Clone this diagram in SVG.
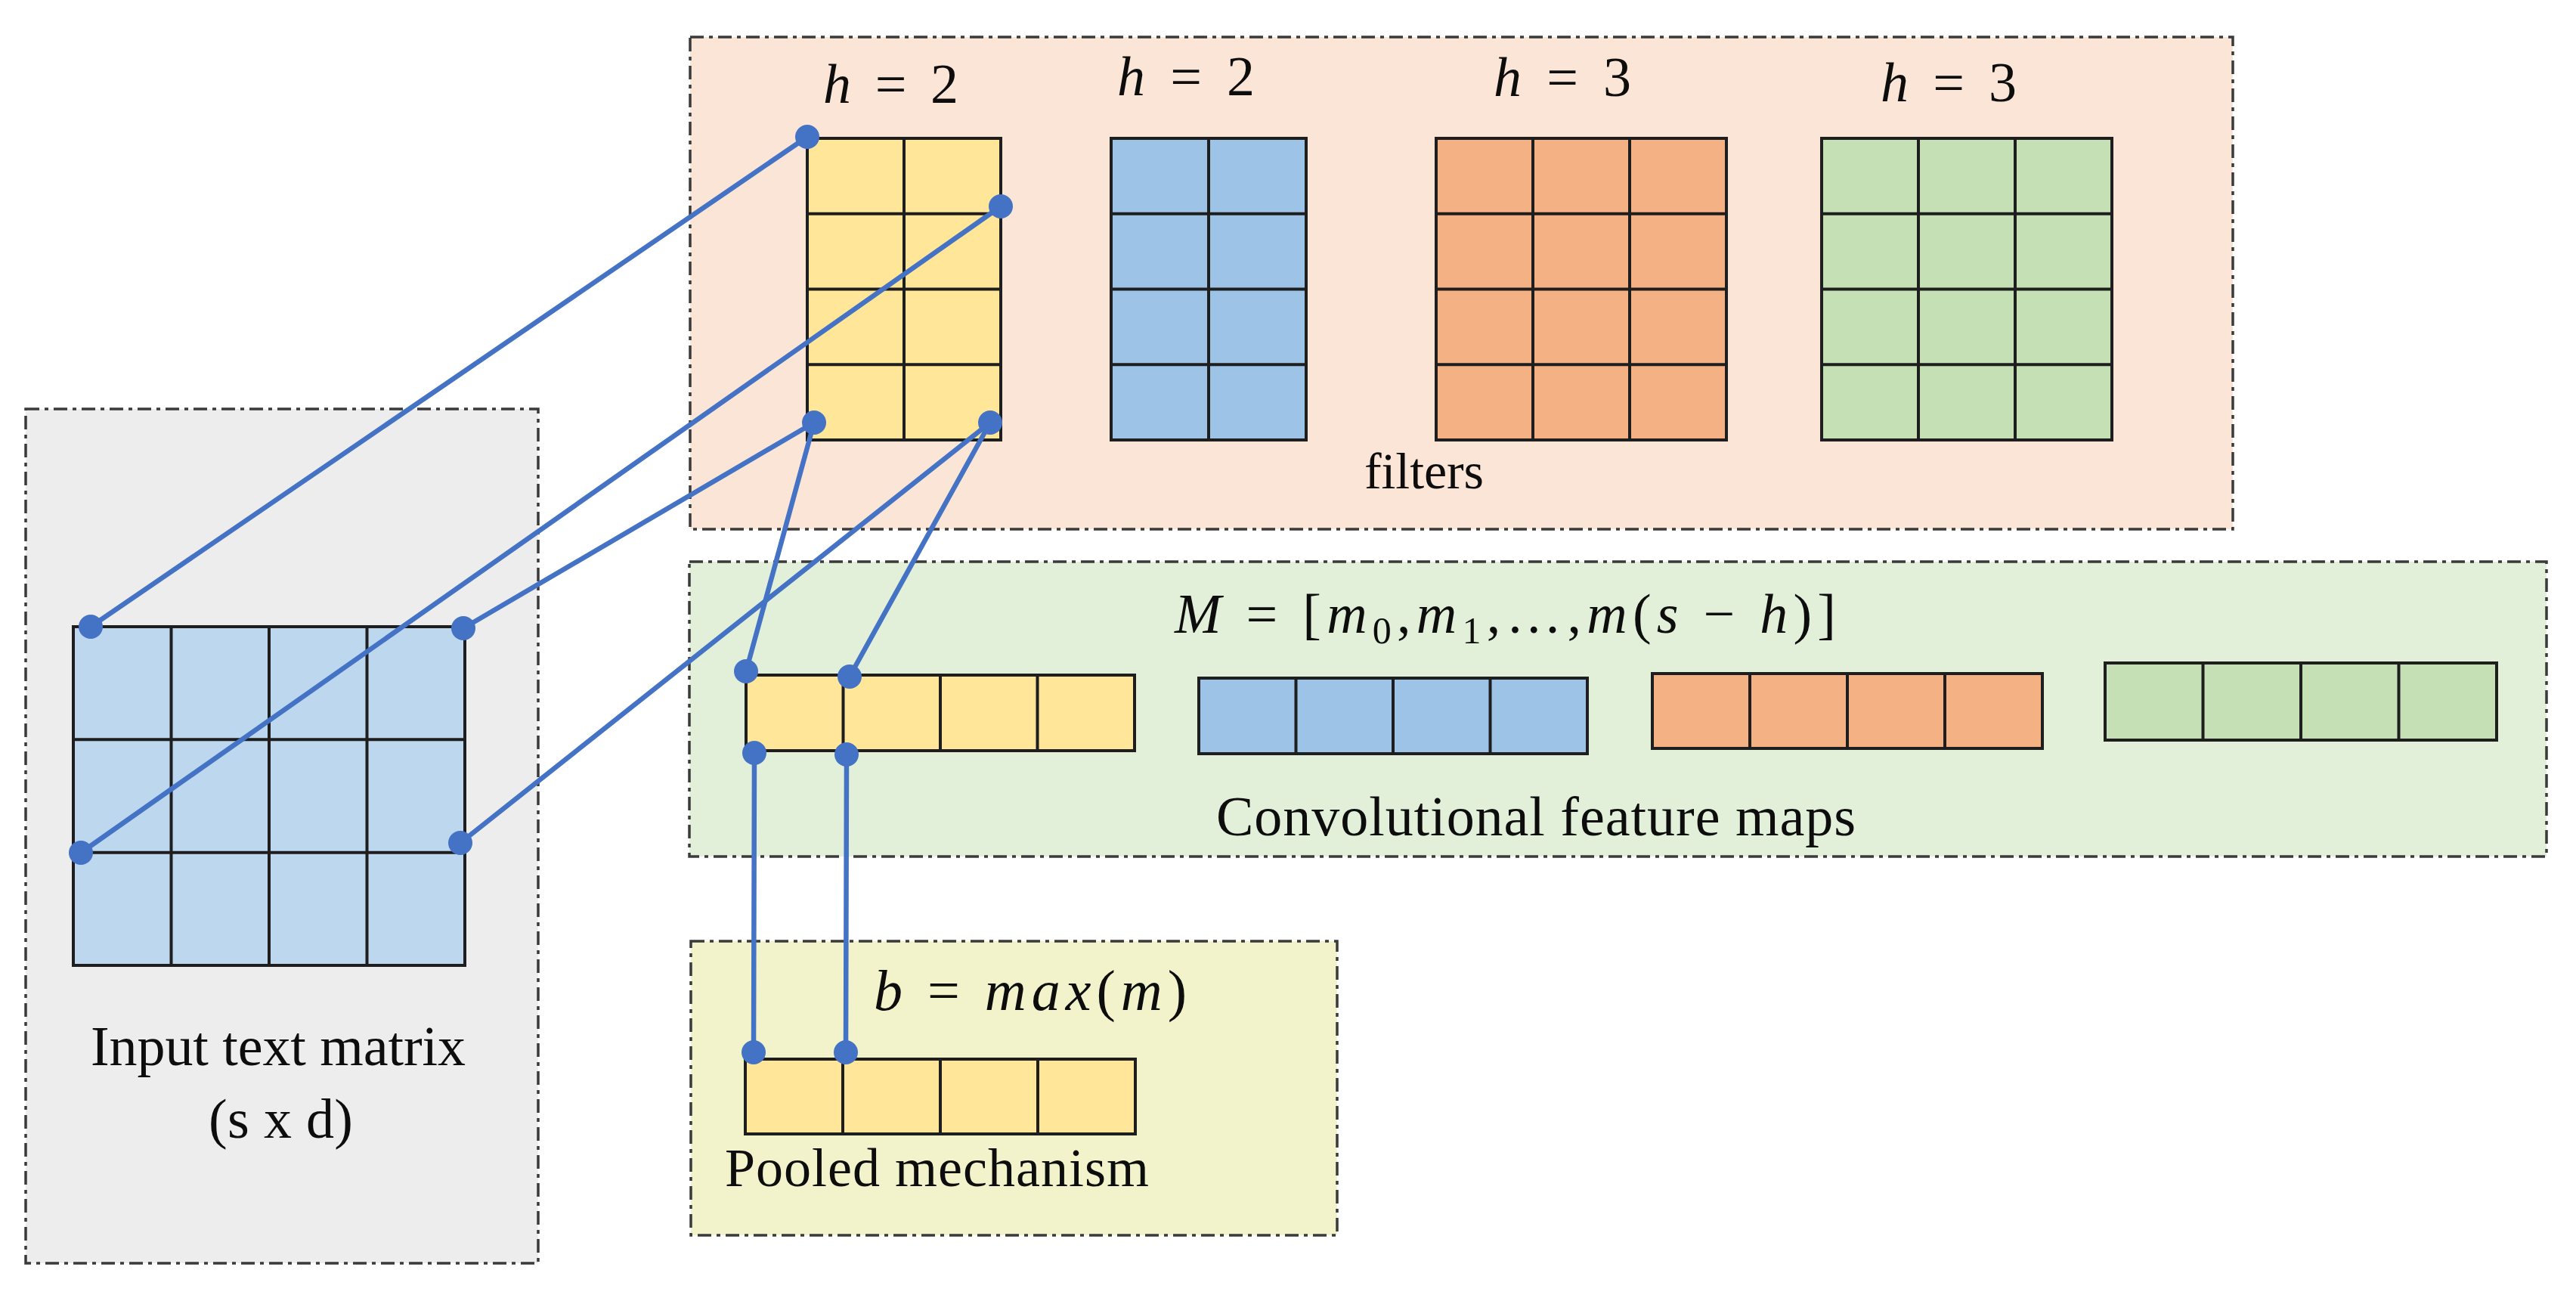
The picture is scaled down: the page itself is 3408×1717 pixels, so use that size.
<svg xmlns="http://www.w3.org/2000/svg" width="3408" height="1717" viewBox="0 0 3408 1717">
<style>
.panel{stroke:#3a3a3a;stroke-width:3.5;stroke-dasharray:18 7 5 7}
.grid{stroke:#1e1e1e;stroke-width:4;fill:none}
.cell-y{fill:#ffe699}
.cell-b{fill:#9dc3e6}
.cell-lb{fill:#bdd7ee}
.cell-o{fill:#f4b183}
.cell-g{fill:#c5e0b4}
.lbl{font-family:"Liberation Serif","Times New Roman",serif;fill:#0d0d0d}
.math{font-family:"Liberation Serif","DejaVu Serif",serif;fill:#0d0d0d}
.it{font-style:italic}
.conn line{stroke:#4472c4;stroke-width:6.5;stroke-linecap:round}
.conn circle{fill:#4472c4}
</style>
<rect width="3408" height="1717" fill="#ffffff"/>

<g id="input-panel">
  <rect class="panel" x="34" y="541" width="678" height="1130" fill="#ededed"/>
  <g id="input-matrix">
    <rect class="cell-lb" x="97" y="829" width="518" height="448"/>
    <path class="grid" d="M97 829H615V1277H97Z M226.5 829V1277 M356 829V1277 M485.5 829V1277 M97 978.3H615 M97 1127.7H615"/>
  </g>
  <text class="lbl" x="120" y="1409" font-size="74" textLength="496" lengthAdjust="spacing">Input text matrix</text>
  <text class="lbl" x="276" y="1505" font-size="74" textLength="191" lengthAdjust="spacing">(s x d)</text>
</g>

<g id="filters-panel">
  <rect class="panel" x="913" y="49" width="2041" height="651" fill="#fbe5d6"/>
  <g id="filter-1">
    <rect class="cell-y" x="1068" y="183" width="256" height="399"/>
    <path class="grid" d="M1068 183H1324V582H1068Z M1196 183V582 M1068 282.75H1324 M1068 382.5H1324 M1068 482.25H1324"/>
    <text class="math" x="1089" y="136" font-size="74" textLength="179" lengthAdjust="spacing"><tspan class="it">h</tspan> = 2</text>
  </g>
  <g id="filter-2">
    <rect class="cell-b" x="1470" y="183" width="258" height="399"/>
    <path class="grid" d="M1470 183H1728V582H1470Z M1599 183V582 M1470 282.75H1728 M1470 382.5H1728 M1470 482.25H1728"/>
    <text class="math" x="1478" y="126" font-size="74" textLength="182" lengthAdjust="spacing"><tspan class="it">h</tspan> = 2</text>
  </g>
  <g id="filter-3">
    <rect class="cell-o" x="1900" y="183" width="384" height="399"/>
    <path class="grid" d="M1900 183H2284V582H1900Z M2028 183V582 M2156 183V582 M1900 282.75H2284 M1900 382.5H2284 M1900 482.25H2284"/>
    <text class="math" x="1976" y="127" font-size="74" textLength="182" lengthAdjust="spacing"><tspan class="it">h</tspan> = 3</text>
  </g>
  <g id="filter-4">
    <rect class="cell-g" x="2410" y="183" width="384" height="399"/>
    <path class="grid" d="M2410 183H2794V582H2410Z M2538 183V582 M2666 183V582 M2410 282.75H2794 M2410 382.5H2794 M2410 482.25H2794"/>
    <text class="math" x="2488" y="134" font-size="74" textLength="180" lengthAdjust="spacing"><tspan class="it">h</tspan> = 3</text>
  </g>
  <text class="lbl" x="1805" y="646" font-size="68" textLength="158" lengthAdjust="spacing">filters</text>
</g>

<g id="feature-maps-panel">
  <rect class="panel" x="912" y="743" width="2457" height="390" fill="#e2f0d9"/>
  <text class="math" x="1554" y="837" font-size="74" textLength="875" lengthAdjust="spacing"><tspan class="it">M</tspan> = [<tspan class="it">m</tspan><tspan font-size="50" dy="14">0</tspan><tspan dy="-14">,</tspan><tspan class="it">m</tspan><tspan font-size="50" dy="14">1</tspan><tspan dy="-14">,…,</tspan><tspan class="it">m</tspan>(<tspan class="it">s</tspan> − <tspan class="it">h</tspan>)]</text>
  <g id="map-1">
    <rect class="cell-y" x="987" y="893" width="514" height="100"/>
    <path class="grid" d="M987 893H1501V993H987Z M1115.5 893V993 M1244 893V993 M1372.5 893V993"/>
  </g>
  <g id="map-2">
    <rect class="cell-b" x="1586" y="897" width="514" height="100"/>
    <path class="grid" d="M1586 897H2100V997H1586Z M1714.5 897V997 M1843 897V997 M1971.5 897V997"/>
  </g>
  <g id="map-3">
    <rect class="cell-o" x="2186" y="891" width="516" height="99"/>
    <path class="grid" d="M2186 891H2702V990H2186Z M2315 891V990 M2444 891V990 M2573 891V990"/>
  </g>
  <g id="map-4">
    <rect class="cell-g" x="2785" y="877" width="518" height="102"/>
    <path class="grid" d="M2785 877H3303V979H2785Z M2914.5 877V979 M3044 877V979 M3173.5 877V979"/>
  </g>
  <text class="lbl" x="1609" y="1105" font-size="74" textLength="846" lengthAdjust="spacing">Convolutional  feature  maps</text>
</g>

<g id="pooled-panel">
  <rect class="panel" x="914" y="1245" width="855" height="389" fill="#f2f2cb"/>
  <text class="math" x="1156" y="1336" font-size="76" textLength="414" lengthAdjust="spacing"><tspan class="it">b</tspan> = <tspan class="it">max</tspan>(<tspan class="it">m</tspan>)</text>
  <g id="pooled-map">
    <rect class="cell-y" x="986" y="1401" width="516" height="99"/>
    <path class="grid" d="M986 1401H1502V1500H986Z M1115 1401V1500 M1244 1401V1500 M1373 1401V1500"/>
  </g>
  <text class="lbl" x="959" y="1569" font-size="72" textLength="561" lengthAdjust="spacing">Pooled mechanism</text>
</g>

<g id="connectors" class="conn">
  <line x1="120" y1="829" x2="1068" y2="181"/>
  <line x1="107" y1="1128" x2="1324" y2="273"/>
  <line x1="613" y1="831" x2="1077" y2="559"/>
  <line x1="609" y1="1115" x2="1310" y2="559"/>
  <line x1="1077" y1="559" x2="987" y2="888"/>
  <line x1="1310" y1="559" x2="1124" y2="895"/>
  <line x1="998" y1="996" x2="997" y2="1392"/>
  <line x1="1120" y1="998" x2="1119" y2="1392"/>
  <circle cx="1068" cy="181" r="16"/>
  <circle cx="1324" cy="273" r="16"/>
  <circle cx="1077" cy="559" r="16"/>
  <circle cx="1310" cy="559" r="16"/>
  <circle cx="120" cy="829" r="16"/>
  <circle cx="613" cy="831" r="16"/>
  <circle cx="107" cy="1128" r="16"/>
  <circle cx="609" cy="1115" r="16"/>
  <circle cx="987" cy="888" r="16"/>
  <circle cx="1124" cy="895" r="16"/>
  <circle cx="998" cy="996" r="16"/>
  <circle cx="1120" cy="998" r="16"/>
  <circle cx="997" cy="1392" r="16"/>
  <circle cx="1119" cy="1392" r="16"/>
</g>
</svg>
